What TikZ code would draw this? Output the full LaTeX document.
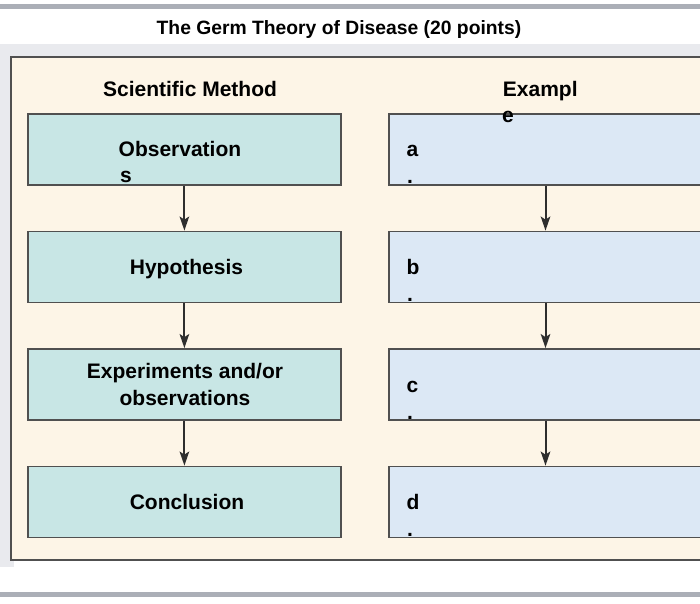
\documentclass[tikz,border=0pt]{standalone}
\usepackage{fontspec}
\setmainfont{Liberation Sans}
\usetikzlibrary{arrows.meta}
\definecolor{barcol}{HTML}{ABAFB7}
\definecolor{shadowcol}{HTML}{E9EAEE}
\definecolor{panelcol}{HTML}{FDF5E7}
\definecolor{edgecol}{HTML}{505050}
\definecolor{leftcol}{HTML}{C8E6E5}
\definecolor{rightcol}{HTML}{DCE8F5}
\definecolor{arrowcol}{HTML}{2E2E2E}
\begin{document}
\begin{tikzpicture}[x=1pt,y=-1pt,
  lab/.style={font=\fontsize{21}{26}\selectfont\bfseries, inner sep=0pt, text=black},
  ttl/.style={font=\fontsize{19.3}{23}\selectfont\bfseries, inner sep=0pt, text=black},
  leftbox/.style={draw=edgecol, line width=1.8pt, fill=leftcol, minimum width=312.4pt, minimum height=71pt, inner sep=0pt},
  rightbox/.style={draw=edgecol, line width=1.8pt, fill=rightcol, minimum width=313pt, minimum height=71pt, inner sep=0pt},
  arr/.style={draw=arrowcol, line width=2pt, -{Stealth[length=14pt,width=9.5pt,inset=3pt]}}]
\useasboundingbox (0,0) rectangle (700,603);
\clip (0,0) rectangle (700,603);
\fill[white] (0,0) rectangle (700,603);
\fill[barcol] (0,4) rectangle (700,9.3);
\fill[barcol] (0,591.5) rectangle (700,596.7);
\fill[shadowcol] (0,44) rectangle (700,561);
\fill[shadowcol] (0,44) rectangle (14,567);
\draw[draw=edgecol, line width=1.8pt, fill=panelcol] (11,57) rectangle (715,560);
\node[ttl, anchor=base] (title) at (339,34.5) {The Germ Theory of Disease (20 points)};
\node[lab, anchor=base] (hsm) at (190,96) {Scientific Method};
\node[lab, anchor=base west] (hex1) at (502.7,96) {Exampl};
% boxes
\node[leftbox] (m1) at (184.4,149.5) {};
\node[leftbox] (m2) at (184.4,267) {};
\node[leftbox] (m3) at (184.4,384.5) {};
\node[leftbox] (m4) at (184.4,502) {};
\node[rightbox] (e1) at (545.5,149.5) {};
\node[rightbox] (e2) at (545.5,267) {};
\node[rightbox] (e3) at (545.5,384.5) {};
\node[rightbox] (e4) at (545.5,502) {};
\node[lab, anchor=base west] (hex2) at (502,122) {e};
% arrows
\draw[arr] (m1.south) -- (m2.north);
\draw[arr] (m2.south) -- (m3.north);
\draw[arr] (m3.south) -- (m4.north);
\draw[arr] (e1.south) -- (e2.north);
\draw[arr] (e2.south) -- (e3.north);
\draw[arr] (e3.south) -- (e4.north);
% left labels
\node[lab, anchor=base west] (l1a) at (118.5,156.5) {Observation};
\node[lab, anchor=base west] (l1b) at (120,182) {s};
\node[lab, anchor=base] (l2) at (186.5,274.5) {Hypothesis};
\node[lab, anchor=base] (l3a) at (185,378) {Experiments and/or};
\node[lab, anchor=base] (l3b) at (185,405) {observations};
\node[lab, anchor=base] (l4) at (187,509) {Conclusion};
% right labels
\node[lab, anchor=base west] (r1a) at (406.5,156) {a};
\node[lab, anchor=base west] (r1b) at (407,183) {.};
\node[lab, anchor=base west] (r2a) at (406.5,274) {b};
\node[lab, anchor=base west] (r2b) at (407,301) {.};
\node[lab, anchor=base west] (r3a) at (406.5,392) {c};
\node[lab, anchor=base west] (r3b) at (407,419) {.};
\node[lab, anchor=base west] (r4a) at (406.5,509) {d};
\node[lab, anchor=base west] (r4b) at (407,536) {.};
\end{tikzpicture}
\end{document}
